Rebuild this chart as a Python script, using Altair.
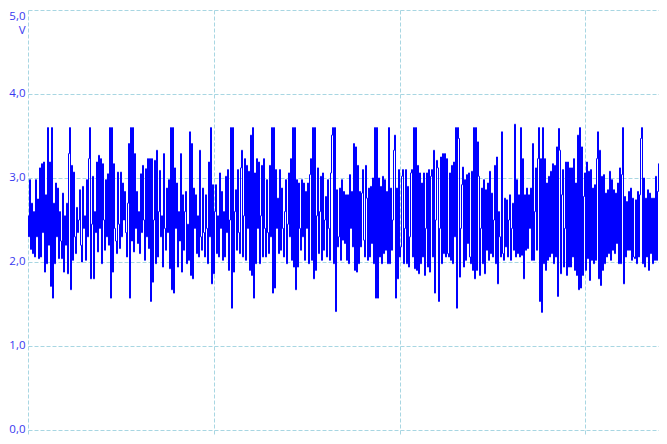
import altair as alt
import pandas as pd

# Oscilloscope trace, one sample per screen column (volts)
seg_a = [2.55, 2.30, 2.98, 2.15, 2.70, 2.10, 2.60, 2.06, 2.98, 2.30,
         2.75, 2.04, 3.12, 2.06, 3.17, 2.35, 3.19, 1.88, 2.80, 1.98,
         3.60, 2.20, 3.19, 1.71, 3.60, 1.57, 2.70, 1.98, 2.94, 2.30,
         2.88, 2.04, 2.60, 2.25, 2.04, 2.82, 1.88, 2.55, 2.20, 2.70,
         1.86, 3.29, 3.60, 1.67, 3.15, 2.02, 3.07, 2.30, 2.10, 2.65,
         2.35, 2.50, 2.86, 2.20, 2.00, 2.90, 2.40, 2.55, 2.02, 2.98,
         2.30, 3.23, 3.60, 1.80, 2.45, 3.02, 1.80, 2.60, 2.35, 3.19,
         2.12, 3.27, 2.40, 3.23, 1.98, 3.17, 2.50, 2.14, 2.98, 2.30,
         3.05, 2.20, 3.60, 1.57, 3.60, 1.88, 3.17, 2.40, 2.25, 2.10,
         3.07, 2.45, 2.16, 3.07, 2.30, 2.94, 2.50, 2.84, 2.35, 2.06,
         2.70, 3.41, 1.57, 3.60, 2.25, 3.60, 2.12, 3.29, 2.40, 2.84,
         2.22, 2.60, 2.10, 3.05, 2.35, 3.15, 2.50, 2.02, 3.11, 2.30,
         3.23, 2.16, 3.23, 1.53, 3.23, 1.76, 2.50, 3.21, 1.98, 3.33,
         2.06, 2.60, 3.09, 2.30, 2.55, 1.94, 3.29, 2.40, 2.14, 2.88,
         2.35, 2.98, 1.92, 3.60, 1.67, 3.60, 1.63, 3.12, 2.40, 2.94,
         1.94, 2.60, 2.25]

seg_b = [3.29, 1.88, 2.80, 2.14, 2.60, 2.84, 1.98, 2.45, 2.02, 3.55,
         1.84, 3.41, 1.80, 2.88, 2.40, 2.80, 2.10, 2.55, 2.06, 3.33,
         2.30, 2.14, 2.88, 2.35, 2.06, 2.80, 2.40, 1.98, 3.19, 2.30,
         3.60, 1.74, 2.92, 1.86, 2.60, 2.92, 2.10, 2.55, 2.06, 3.06,
         2.40, 2.84, 2.02, 2.60, 2.06, 3.02, 2.35, 3.10, 1.90, 2.50,
         3.60, 1.45, 3.60, 1.88, 2.60, 2.86, 2.14, 3.10, 2.35, 2.10,
         3.12, 3.33, 2.06, 2.55, 3.23, 2.02, 3.15, 2.40, 3.08, 1.90,
         3.51, 1.84, 3.60, 1.57, 3.06, 1.98, 3.23, 2.40, 3.19, 1.98,
         2.55, 3.15, 2.06, 3.23, 2.40, 2.06, 2.98, 2.35, 2.10, 3.15,
         2.30, 3.60, 1.63, 3.60, 1.69, 3.10, 2.40, 2.76, 2.10, 3.10,
         2.14, 2.88, 2.40, 2.06, 2.60, 2.98, 1.98, 2.45, 3.06, 2.30,
         3.23, 2.02, 3.60, 1.94, 3.60, 1.67, 2.98, 1.94, 2.94, 2.40,
         2.14, 2.98, 2.30, 2.94, 2.02, 2.84, 2.40, 2.94, 1.98, 3.04,
         3.23, 2.02, 3.60, 1.80, 3.60, 1.90, 2.55, 3.12, 2.10, 2.60,
         3.02, 2.02, 3.06, 2.14, 2.50, 2.78, 2.06, 2.98, 2.40, 2.02,
         3.06, 3.51, 3.60, 1.98, 3.60, 1.41, 2.86, 2.18]

seg_c = [2.30, 2.88, 2.02, 2.98, 2.26, 2.84, 2.22, 2.80, 2.02, 2.80,
         1.98, 3.04, 2.40, 2.84, 2.18, 3.41, 1.90, 3.37, 1.88, 3.15,
         1.98, 2.84, 2.18, 2.82, 3.10, 2.26, 2.06, 3.15, 2.76, 2.02,
         2.88, 2.06, 2.90, 2.22, 3.00, 1.98, 3.60, 1.57, 3.60, 1.57,
         3.00, 2.06, 2.90, 1.98, 3.02, 2.10, 2.98, 2.14, 2.84, 1.98,
         3.60, 1.98, 2.88, 2.14, 2.50, 3.33, 3.51, 1.57, 2.88, 1.80,
         3.10, 2.06, 2.18, 3.02, 3.10, 1.98, 2.40, 3.10, 1.98, 2.90,
         1.94, 2.30, 3.06, 3.10, 2.06, 3.60, 1.92, 3.60, 1.90, 3.15,
         1.86, 3.06, 1.98, 2.94, 2.06, 3.06, 1.84, 2.40, 3.06, 1.94,
         3.10, 1.88, 3.02, 3.10, 2.06, 3.33, 1.63, 2.50, 3.21, 3.12,
         1.53, 2.40, 3.25, 1.98, 3.29, 2.10, 3.29, 2.06, 3.23, 2.10,
         2.06, 3.06, 2.02, 3.15, 1.98, 3.19, 2.30, 3.60, 1.45, 3.60,
         3.47, 1.82, 2.40, 2.92, 3.13, 1.94, 2.98, 2.02, 3.04, 2.22,
         3.06, 2.06, 1.98, 3.08, 1.90, 3.60, 1.80, 3.60, 1.90, 3.43,
         3.02, 1.84, 2.40, 2.88, 1.98, 2.98, 1.86, 2.86, 2.14, 2.94,
         2.02, 3.08, 2.10, 2.82, 2.06, 2.50, 3.15, 1.98, 3.25, 1.74,
         2.60, 2.30]

seg_d = [2.06, 3.55, 2.10, 2.02, 2.76, 2.18, 2.74, 2.06, 2.50, 2.80,
         2.02, 2.40, 2.70, 2.14, 3.64, 2.06, 2.98, 2.10, 2.80, 2.06,
         3.60, 2.08, 3.23, 1.80, 2.80, 2.14, 2.88, 2.16, 2.80, 2.40,
         2.88, 2.02, 3.41, 2.02, 2.60, 3.12, 2.14, 3.23, 3.60, 1.53,
         3.23, 1.40, 3.60, 1.98, 3.23, 1.90, 2.94, 2.02, 3.02, 2.06,
         3.08, 2.10, 3.17, 1.98, 3.15, 2.06]

seg_e = [3.37, 1.59, 3.59, 3.33, 1.86, 2.80, 3.10, 1.94, 2.40, 3.19,
         1.84, 3.19, 1.94, 3.12, 1.94, 3.12, 2.06, 3.23, 1.90, 2.94,
         1.84, 3.51, 1.67, 3.60, 1.69, 3.37, 1.84, 2.78, 3.06, 1.90,
         3.19, 2.04, 3.08, 1.78, 3.10, 2.02, 2.88, 1.98, 2.92, 2.02,
         3.23, 3.55, 1.80, 3.33, 1.72, 3.02, 1.90, 3.04, 1.98, 2.82,
         2.06, 2.86, 2.10, 3.08, 2.02, 2.98, 2.14, 2.86, 2.10, 2.82,
         2.22, 2.94, 1.98, 3.12, 1.98, 3.04, 3.60, 1.74, 2.78, 2.06,
         2.72, 2.14, 2.84, 2.14, 2.88, 2.02, 2.76, 2.06, 2.04, 2.74,
         1.98, 2.84, 2.06, 2.80, 3.47, 3.60, 1.98, 3.00, 1.94, 2.76,
         2.06, 2.86, 1.90, 2.82, 2.10, 2.76, 1.98, 2.76, 2.02, 3.02,
         2.02, 2.84, 3.17, 2.06, 1.88, 2.98, 1.86, 3.02, 1.82, 2.86]

volts = seg_a + seg_b + seg_c + seg_d + seg_e
samples_per_div = 185.8
y_ticks = [0, 1, 2, 3, 4, 5]

df = pd.DataFrame({"i": list(range(len(volts))), "v": volts})

GRID = "#a8d6e2"
LABEL = "#3838f0"
FONT = "Open Sans"

PLOT_W = 631
PLOT_H = 426
PX_PER_V = 84

x_grid = [k * samples_per_div for k in range(4)]

chart = alt.Chart(df).mark_line(color="#0000ff", strokeWidth=1, clip=True,
                                interpolate="step").encode(
    x=alt.X("i:Q",
            scale=alt.Scale(domain=[0, PLOT_W], nice=False, zero=False),
            axis=alt.Axis(values=x_grid, grid=True, labels=False, ticks=False,
                          domain=False, title=None, gridColor=GRID,
                          gridDash=[4, 2], gridWidth=1)),
    y=alt.Y("v:Q",
            scale=alt.Scale(domain=[5.0 - PLOT_H / PX_PER_V, 5.0], nice=False, zero=False),
            axis=alt.Axis(values=y_ticks, grid=True, ticks=False, domain=False,
                          gridColor=GRID, gridDash=[4, 2], gridWidth=1,
                          labelExpr="replace(format(datum.value, '.1f'), '.', ',')",
                          labelColor=LABEL, labelFont=FONT, labelFontSize=11.5,
                          labelBaseline="alphabetic", labelPadding=3,
                          labelOffset={"condition": {"test": "datum.value == 5", "value": 9}, "value": 2.5},
                          title="V", titleAngle=0, titleAlign="right",
                          titleBaseline="alphabetic", titleX=-3, titleY=23,
                          titleColor=LABEL, titleFont=FONT, titleFontSize=11.5,
                          titleFontWeight="normal")),
).properties(
    width=PLOT_W,
    height=PLOT_H,
    autosize=alt.AutoSizeParams(type="none"),
    padding={"left": 20, "top": 2, "right": 0, "bottom": 0},
    background="white",
).configure_view(stroke=None)

chart.save("out.html", embed_options={"renderer": "svg", "actions": False})
